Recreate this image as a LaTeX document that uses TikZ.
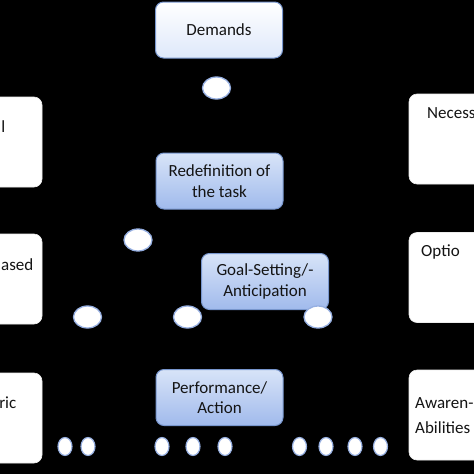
\documentclass[tikz,border=0pt]{standalone}
\usepackage{fontspec}
\setmainfont{Carlito}
\usetikzlibrary{shapes.geometric}
\definecolor{bordc}{RGB}{120,150,205}
\definecolor{boxtop}{RGB}{216,228,248}
\definecolor{boxbot}{RGB}{160,186,236}
\definecolor{whbot}{RGB}{222,232,250}
\definecolor{dotc}{RGB}{150,175,225}
\definecolor{textc}{RGB}{20,20,20}
\begin{document}
\begin{tikzpicture}[x=1pt,y=-1pt,
  mainfont/.style={font=\fontsize{17}{20.5}\selectfont, text=textc},
  bluebox/.style={mainfont, rounded corners=8pt, draw=bordc, line width=1pt,
    top color=boxtop, bottom color=boxbot, minimum width=127pt, minimum height=56pt,
    align=center, inner sep=2pt},
  demandbox/.style={bluebox, top color=white, bottom color=whbot},
  sidebox/.style={rounded corners=8pt, fill=white, draw=white!85!gray, line width=0.6pt,
    minimum width=100pt, minimum height=90pt, inner sep=0pt},
  sidetext/.style={mainfont, inner sep=0pt},
  bigdot/.style={ellipse, fill=white, draw=dotc, line width=1.3pt, inner sep=0pt,
    minimum width=28pt, minimum height=22pt},
  smalldot/.style={ellipse, fill=white, draw=dotc, line width=1.2pt, inner sep=0pt,
    minimum width=14pt, minimum height=18pt}]
\fill[black] (0,0) rectangle (474,474);
\useasboundingbox (0,0) rectangle (474,474);
\clip (0,0) rectangle (474,474);
% left side boxes
\node[sidebox] (L1) at (-8,142) {};
\node[sidebox] (L2) at (-8,279) {};
\node[sidebox] (L3) at (-8,418) {};
% right side boxes
\node[sidebox] (R1) at (459,139) {};
\node[sidebox] (R2) at (459,277.5) {};
\node[sidebox] (R3) at (459,415) {};
% side texts
\node[sidetext, anchor=base east] (tL1) at (5.5,132) {l};
\node[sidetext, anchor=base east] (tL2) at (33.5,270) {ased};
\node[sidetext, anchor=base east] (tL3) at (16.5,408) {ric};
\node[sidetext, anchor=base west] (tR1) at (427,118) {Necess};
\node[sidetext, anchor=base west] (tR2) at (421,256) {Optio};
\node[sidetext, anchor=base west] (tR3) at (415,408) {Awaren-};
\node[sidetext, anchor=base west] (tR4) at (415,433) {Abilities};
% main boxes
\node[demandbox] (dem) at (219,30) {Demands};
\node[bluebox] (red) at (219.5,181) {Redefinition of\\the task};
\node[bluebox] (goal) at (265,281.5) {Goal-Setting/-\\Anticipation};
\node[bluebox] (perf) at (219.5,397.5) {Performance/\\Action};
% big ellipses
\node[bigdot] (e1) at (216.5,88) {};
\node[bigdot] (e2) at (138,240) {};
\node[bigdot] (e3) at (87.5,317) {};
\node[bigdot] (e4) at (187.5,317) {};
\node[bigdot] (e5) at (318,317) {};
% small ellipses
\foreach \n/\x in {s1/65,s2/88,s3/162,s4/193,s5/225,s6/299.5,s7/326,s8/355,s9/380.5}
  \node[smalldot] (\n) at (\x,446.5) {};
\end{tikzpicture}
\end{document}
